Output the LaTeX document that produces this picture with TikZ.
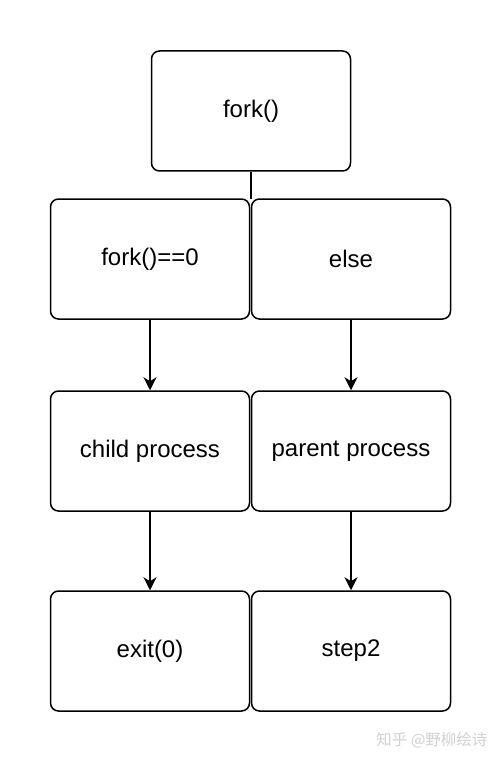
\documentclass[tikz,border=0pt]{standalone}
\usepackage{fontspec}
\setmainfont{Liberation Sans}
\newfontfamily\cjk{Noto Sans CJK SC}
\usetikzlibrary{arrows.meta}
\begin{document}
\begin{tikzpicture}[x=1pt,y=-1pt,
  box/.style={draw=black,line width=1.5pt,rounded corners=8pt,minimum width=199pt,minimum height=120pt,inner sep=0pt,font=\fontsize{24}{28}\selectfont},
  conn/.style={draw=black,line width=1.5pt},
  arr/.style={conn,-{Stealth[length=13pt,width=13pt,inset=4pt]}}]
\path[fill=white] (0,0) rectangle (502,762);
\useasboundingbox (0,0) rectangle (502,762);
\node[box] (fork) at (251,111) {fork()};
\node[box] (f0) at (150,259) {fork()==0};
\node[box] (else) at (351,259) {else};
\node[box] (child) at (150,451) {child process};
\node[box] (parent) at (351,451) {parent process};
\node[box] (exit) at (150,651) {exit(0)};
\node[box] (step2) at (351,651) {step2};
\draw[conn] (fork.south) -- (251,199);
\draw[arr] (f0.south) -- (child.north);
\draw[arr] (else.south) -- (parent.north);
\draw[arr] (child.south) -- (exit.north);
\draw[arr] (parent.south) -- (step2.north);
\node[text=black!18,font=\cjk\fontsize{15.5}{18}\selectfont,anchor=east] (wm) at (491,740) {知乎 @野柳绘诗};
\end{tikzpicture}
\end{document}
